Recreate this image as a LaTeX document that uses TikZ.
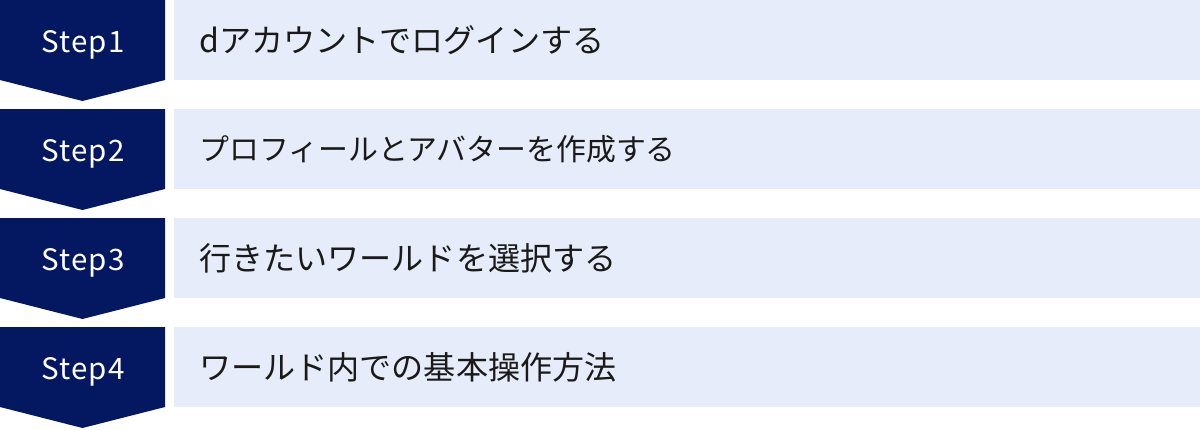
\documentclass[tikz,border=0pt]{standalone}
\usepackage{fontspec}
\setmainfont{Noto Sans CJK JP}
\definecolor{navy}{HTML}{041862}
\definecolor{pale}{HTML}{E6ECF9}
\definecolor{ink}{HTML}{1A1A1A}
\tikzset{
  stepshape/.style={fill=navy},
  barshape/.style={fill=pale},
  steplabel/.style={text=white, font=\fontsize{29.5}{34}\selectfont\addfontfeature{LetterSpace=4}, inner sep=0pt, anchor=base},
  barlabel/.style={text=ink, inner sep=0pt, anchor=base west}
}
\begin{document}
\begin{tikzpicture}[x=1pt,y=-1pt]
\useasboundingbox (0,0) rectangle (1200,429);
\foreach \i/\t/\fs/\bl in {0/dアカウントでログインする/32.1/52.8,1/プロフィールとアバターを作成する/29.9/51.9,2/行きたいワールドを選択する/32.1/52.8,3/ワールド内での基本操作方法/32.1/52.8}{
  \pgfmathsetmacro{\yy}{\i*109}
  \fill[stepshape] (0,\yy) -- (165,\yy) -- (165,\yy+80) -- (82.5,\yy+101) -- (0,\yy+80) -- cycle;
  \fill[barshape] (174,\yy) rectangle (1200,\yy+80);
  \pgfmathtruncatemacro{\n}{\i+1}
  \node[steplabel] (step\n) at (83.1,\yy+52.5) {Step\n};
  \node[barlabel, font=\fontsize{\fs}{34}\selectfont] (text\n) at (199,\yy+\bl) {\t};
}
\end{tikzpicture}
\end{document}
